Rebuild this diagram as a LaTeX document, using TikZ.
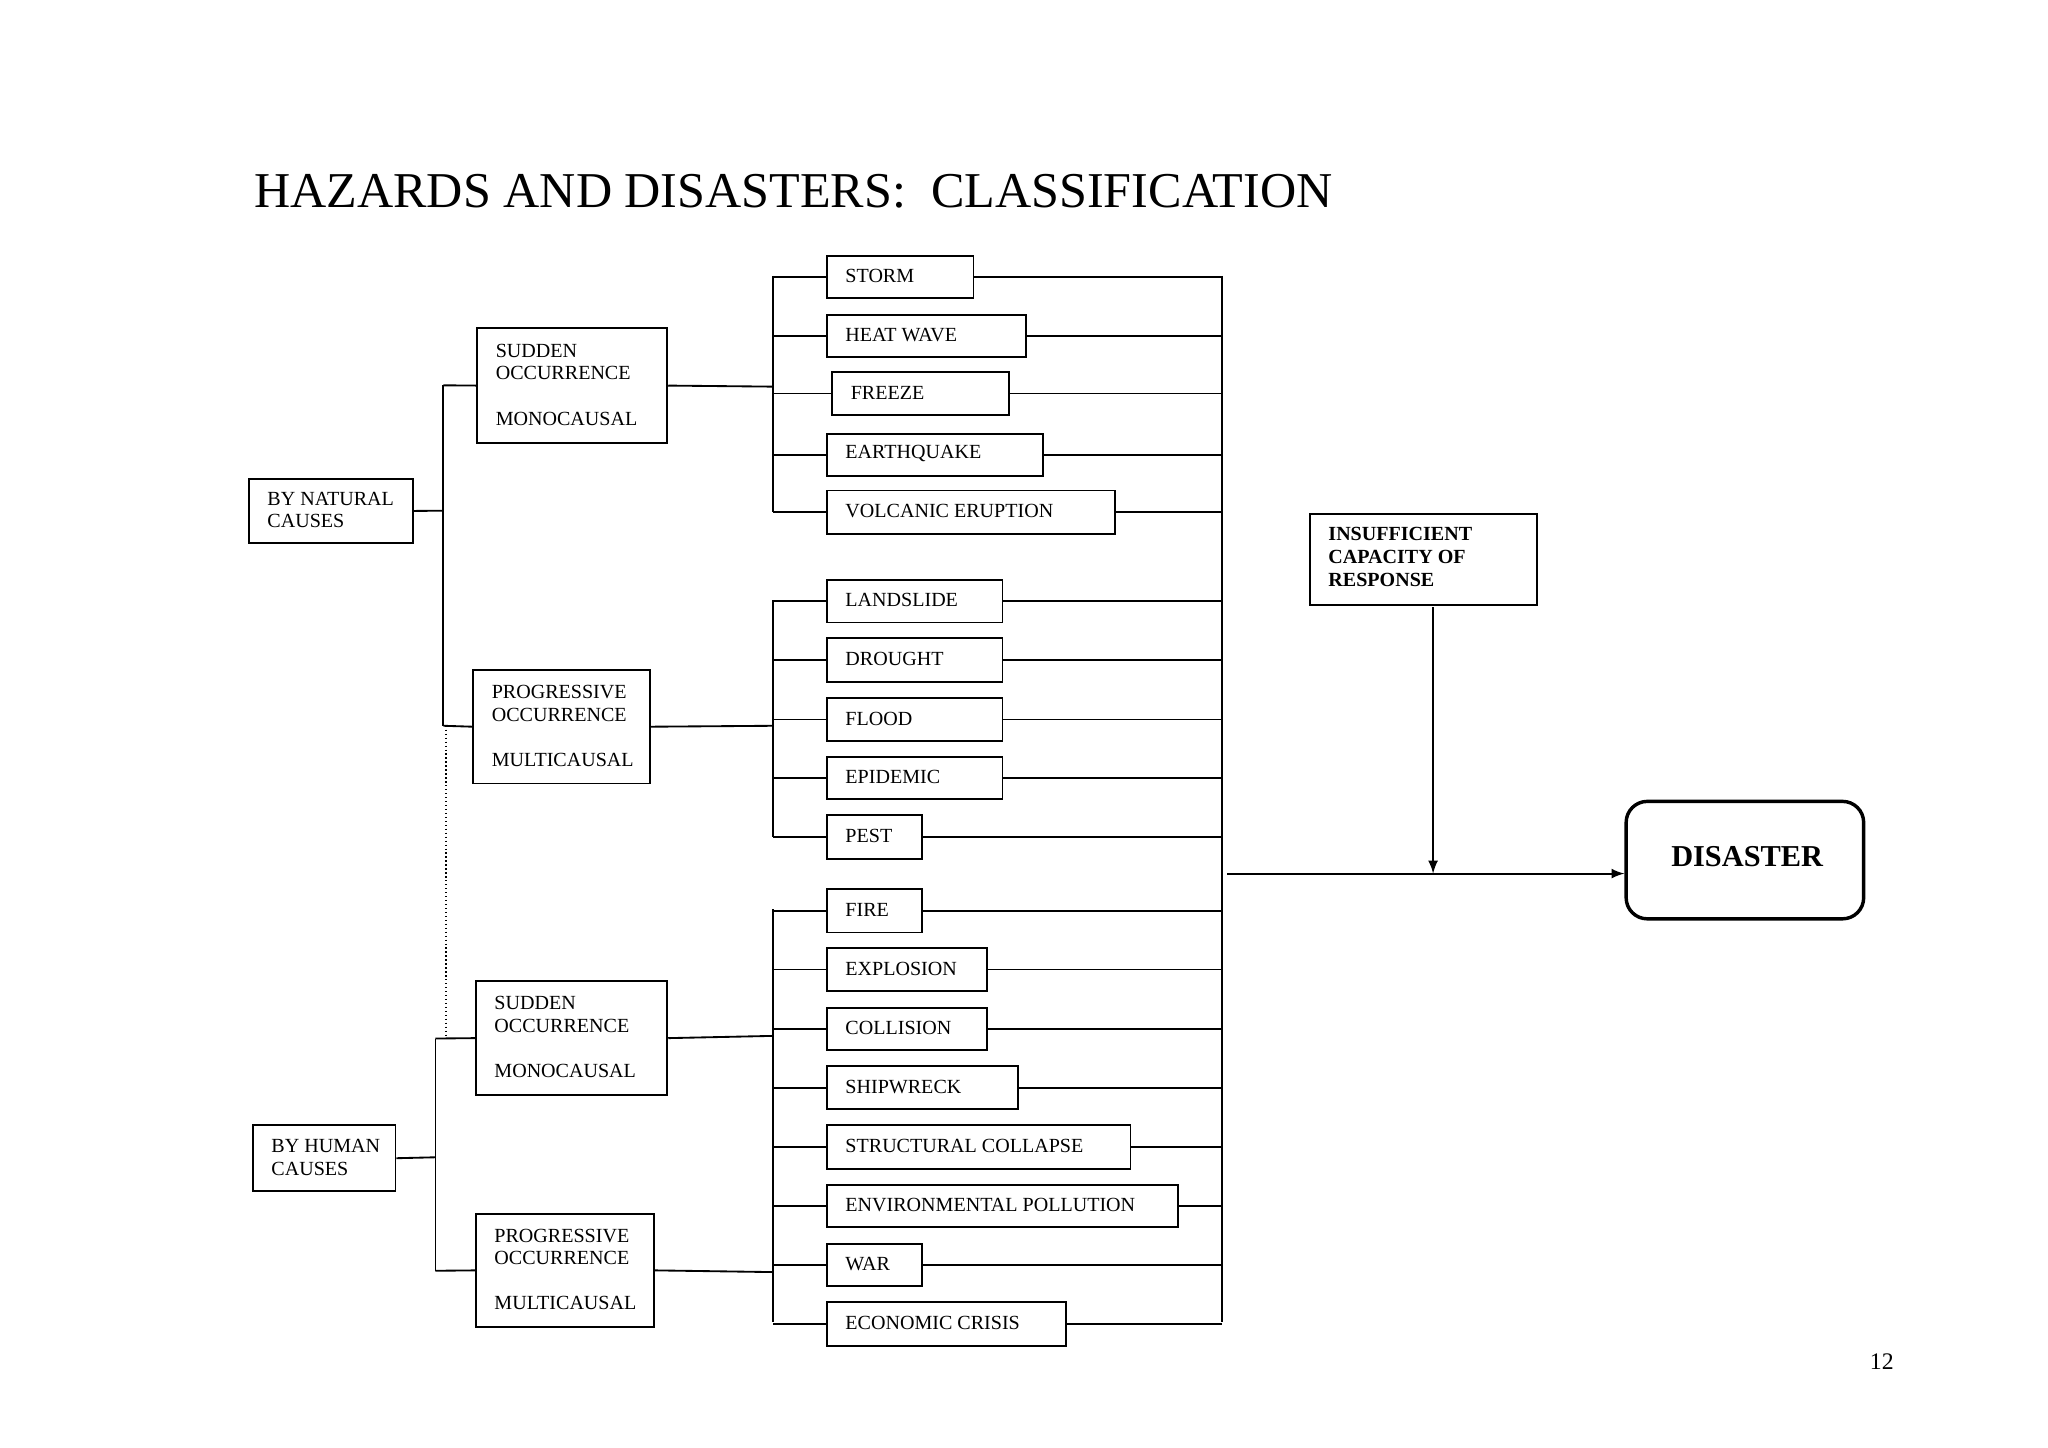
\documentclass[tikz,border=0pt]{standalone}
\usepackage{fontspec}
\setmainfont{Liberation Serif}
\begin{document}
\begin{tikzpicture}[x=0.5pt,y=-0.5pt,line width=0.7pt,
  lbl/.style={font=\fontsize{7.6}{8.6}\selectfont,align=left,anchor=west,inner sep=0pt},
  bx/.style={draw,inner sep=0pt,anchor=north west}]
\useasboundingbox (0,0) rectangle (1552,1097);
\newcommand\bx[6]{%
  \pgfmathsetmacro\bw{(#4-#2)*0.5}\pgfmathsetmacro\bh{(#5-#3)*0.5}%
  \node[bx,minimum width=\bw pt,minimum height=\bh pt] (#1) at (#2,#3) {};
  \node[lbl] (#1t) at (#2+14,{(#3+#5)/2}) {#6};}
\node[anchor=west,inner sep=0pt,font=\fontsize{19}{22}\selectfont] (title) at (192,145) {HAZARDS AND DISASTERS:\ \ CLASSIFICATION};
\node[inner sep=0pt,font=\fontsize{9}{10}\selectfont] (pg) at (1426,1032) {12};
% hazards
\bx{h1}{626}{193}{737}{225}{STORM}
\bx{h2}{626}{238}{777}{270}{HEAT WAVE}
\bx{h3}{630}{281}{764}{314}{FREEZE}
\bx{h4}{626}{328}{790}{360}{EARTHQUAKE}
\bx{h5}{626}{371}{844}{404}{VOLCANIC ERUPTION}
\bx{h6}{626}{439}{759}{471}{LANDSLIDE}
\bx{h7}{626}{483}{759}{516}{DROUGHT}
\bx{h8}{626}{528}{759}{561}{FLOOD}
\bx{h9}{626}{573}{759}{605}{EPIDEMIC}
\bx{h10}{626}{617}{698}{650}{PEST}
\bx{h11}{626}{673}{698}{706}{FIRE}
\bx{h12}{626}{718}{747}{750}{EXPLOSION}
\bx{h13}{626}{763}{747}{795}{COLLISION}
\bx{h14}{626}{807}{771}{840}{SHIPWRECK}
\bx{h15}{626}{852}{856}{885}{STRUCTURAL COLLAPSE}
\bx{h16}{626}{897}{892}{929}{ENVIRONMENTAL POLLUTION}
\bx{h17}{626}{942}{698}{974}{WAR}
\bx{h18}{626}{986}{807}{1019}{ECONOMIC CRISIS}
% categories
\bx{sn}{361}{248}{505}{335}{SUDDEN\\OCCURRENCE\\[8.5pt]MONOCAUSAL}
\bx{pn}{358}{507}{492}{593}{PROGRESSIVE\\OCCURRENCE\\[8.5pt]MULTICAUSAL}
\bx{sh}{360}{743}{505}{829}{SUDDEN\\OCCURRENCE\\[8.5pt]MONOCAUSAL}
\bx{ph}{360}{919}{495}{1005}{PROGRESSIVE\\OCCURRENCE\\[8.5pt]MULTICAUSAL}
\bx{nat}{188}{362}{312}{411}{BY NATURAL\\CAUSES}
\bx{hum}{191}{852}{299}{902}{BY HUMAN\\CAUSES}
\node[draw,font=\fontsize{7.6}{8.6}\selectfont\bfseries,align=left,anchor=north west,text width=86pt,minimum height=34.5pt,inner sep=0pt] (ins) at (992,389) {};
\node[lbl,font=\fontsize{7.6}{8.6}\selectfont\bfseries] (inst) at (1006,422) {INSUFFICIENT\\CAPACITY OF\\RESPONSE};
\node[draw,rounded corners=8pt,line width=1.3pt,minimum width=90pt,minimum height=44.5pt,inner sep=0pt,anchor=north west] (dis) at (1231,606) {};
\node[font=\fontsize{11.5}{13}\selectfont\bfseries,inner sep=0pt] (dist) at (1324,649) {DISASTER};
% left brackets
\draw (586,209) -- (586,388);
\draw (586,455) -- (586,634);
\draw (586,689) -- (586,1002);
\foreach \i in {1,...,18} \draw (586,0 |- h\i.west) -- (h\i.west);
\draw (sn.east) -- (586,293);
\draw (pn.east) -- (586,550);
\draw (sh.east) -- (586,785);
\draw (ph.east) -- (586,964);
\draw (nat.east) -- (336,387);
\draw (336,292) -- (336,550);
\draw (336,292) -- (sn.west);
\draw (336,550) -- (pn.west);
\draw[densely dotted,line width=0.5pt] (338,550) -- (338,785);
\draw (hum.east) -- (330,877);
\draw (330,787) -- (330,963);
\draw (330,787) -- (sh.west);
\draw (330,963) -- (ph.west);
% right bar
\draw (926,209) -- (926,1002);
\foreach \i in {1,...,18} \draw (h\i.east) -- (926,0 |- h\i.east);
\draw[-latex] (930,662) -- (dis.west |- 930,662);
\draw[-latex] (1086,460) -- (1086,662);
\end{tikzpicture}
\end{document}
